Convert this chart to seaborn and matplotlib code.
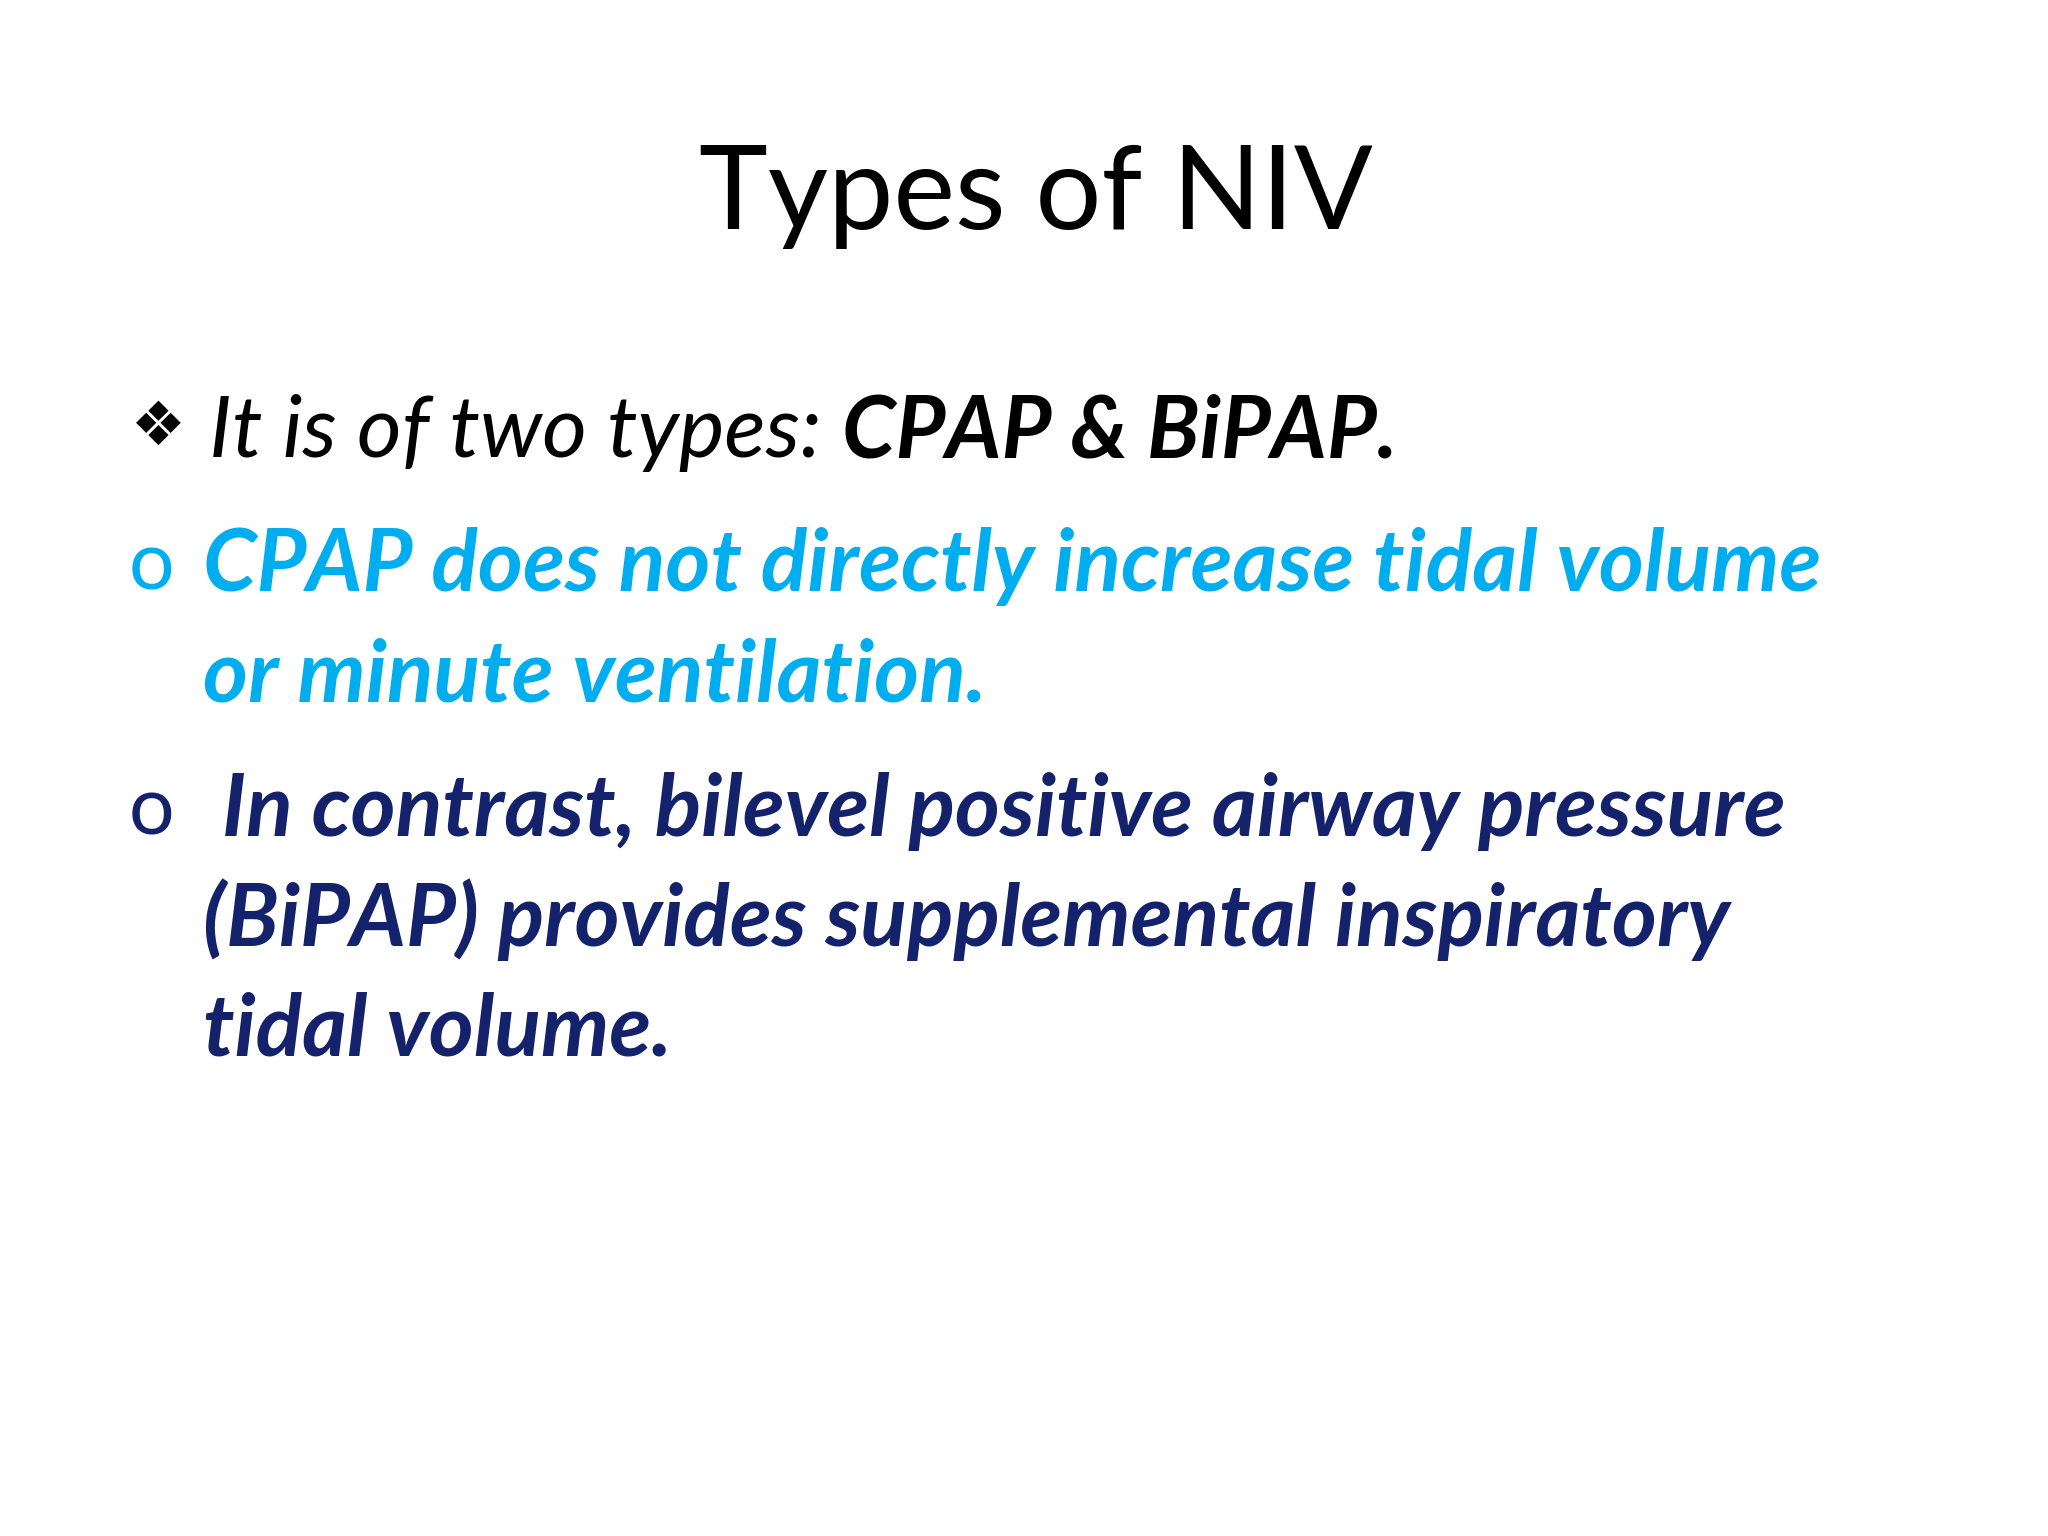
import matplotlib
matplotlib.use('Agg')
import matplotlib.pyplot as plt
import seaborn as sns

sns.set_theme(style='white')
plt.rcParams['font.family'] = ['Lato', 'DejaVu Sans']

# Slide content
title = 'Types of NIV'
intro_plain = 'It is of two types: '
intro_bold = 'CPAP & BiPAP.'
cpap_lines = ['CPAP does not directly increase tidal volume',
              'or minute ventilation.']
bipap_lines = [' In contrast, bilevel positive airway pressure',
               '(BiPAP) provides supplemental inspiratory',
               'tidal volume.']

cyan = '#00AEEF'
navy = '#14216B'

fig = plt.figure(figsize=(20.48, 15.36), dpi=100)
fig.patch.set_facecolor('white')
ax = fig.add_axes([0, 0, 1, 1])
ax.set_xlim(0, 1)
ax.set_ylim(0, 1)
ax.axis('off')

ax.text(0.506, 0.872, title, ha='center', va='center', fontsize=84, color='black')

renderer = fig.canvas.get_renderer()
y0 = 0.718
ax.text(0.064, y0 + 0.003, '\u2756', ha='left', va='center', fontsize=44,
        color='black', family='DejaVu Sans')
t1 = ax.text(0.102, y0, intro_plain, ha='left', va='center', fontsize=62,
             style='italic', color='black')
bb = t1.get_window_extent(renderer=renderer)
x_next = bb.x1 / fig.bbox.width
ax.text(x_next, y0, intro_bold, ha='left', va='center', fontsize=62,
        style='italic', weight='bold', color='black')

ys_cpap = [0.631, 0.559]
ax.text(0.063, ys_cpap[0], 'o', ha='left', va='center', fontsize=58, color=cyan)
for y, line in zip(ys_cpap, cpap_lines):
    ax.text(0.099, y, line, ha='left', va='center', fontsize=62,
            style='italic', weight='bold', color=cyan)

ys_bipap = [0.472, 0.401, 0.329]
ax.text(0.063, ys_bipap[0], 'o', ha='left', va='center', fontsize=58, color=navy)
for y, line in zip(ys_bipap, bipap_lines):
    ax.text(0.099, y, line, ha='left', va='center', fontsize=62,
            style='italic', weight='bold', color=navy)

fig.savefig('out.png', dpi=100, facecolor='white')
